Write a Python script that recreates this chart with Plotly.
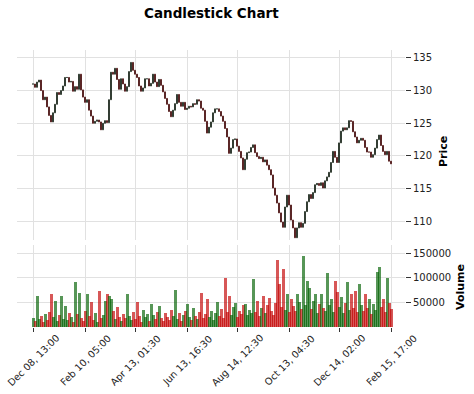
import plotly.graph_objects as go

# ---- data ----
tick_labels = ["Dec 08, 13:00", "Feb 10, 05:00", "Apr 13, 01:30", "Jun 13, 16:30",
               "Aug 14, 12:30", "Oct 13, 04:30", "Dec 14, 02:00", "Feb 15, 17:00"]

close = [
    131.0, 130.5, 131.3, 131.6, 130.0, 128.6, 129.0, 127.5, 126.2, 125.2,
    126.6, 127.9, 129.7, 129.4, 130.0, 130.7, 132.0, 132.0, 131.3, 131.4,
    129.9, 130.6, 130.2, 132.5, 130.1, 129.0, 128.2, 128.6, 127.0, 126.1,
    125.0, 125.3, 125.5, 125.2, 124.0, 125.0, 125.4, 125.1, 128.6, 132.8,
    132.5, 133.4, 131.7, 130.2, 131.8, 131.0, 129.9, 130.6, 132.9, 134.3,
    133.1, 132.5, 132.0, 130.7, 129.9, 130.4, 131.8, 131.8, 130.7, 131.1,
    132.5, 131.3, 130.6, 131.7, 130.8, 129.8, 128.8, 127.9, 126.8, 126.0,
    127.0, 128.0, 129.4, 128.2, 127.6, 128.2, 127.1, 127.3, 127.6, 127.5,
    128.0, 127.9, 128.6, 128.4, 127.3, 127.0, 125.3, 123.5, 124.4, 125.2,
    126.6, 127.2, 127.2, 126.8, 126.1, 125.3, 124.2, 122.9, 120.4, 121.2,
    122.5, 122.6, 121.5, 120.7, 119.7, 117.9, 119.5, 120.5, 120.6, 121.3,
    121.7, 120.5, 119.9, 119.6, 119.8, 119.1, 119.4, 118.6, 117.9, 117.1,
    115.1, 114.0, 112.8, 111.3, 109.9, 109.1, 112.2, 114.0, 112.5, 110.2,
    109.0, 107.5, 109.0, 109.8, 109.1, 109.7, 111.5, 113.0, 114.1, 113.5,
    114.4, 115.6, 115.8, 115.5, 115.9, 115.1, 116.2, 116.8, 117.5, 119.0,
    120.7, 119.8, 119.0, 122.0, 123.8, 124.3, 124.0, 124.3, 125.4, 125.3,
    123.7, 122.9, 122.0, 122.4, 122.7, 122.4, 121.3, 120.6, 120.6, 119.8,
    120.2, 121.2, 122.5, 123.2, 121.6, 120.7, 120.2, 120.7, 119.2, 118.8,
]

volume = [
    18000, 12000, 62000, 15000, 22000, 9000, 26000, 14000, 30000, 66000,
    20000, 52000, 11000, 24000, 62000, 16000, 42000, 13000, 28000, 19000,
    10000, 91000, 25000, 70000, 17000, 12000, 33000, 66000, 21000, 50000,
    14000, 27000, 9000, 74000, 18000, 23000, 52000, 66000, 62000, 56000,
    31000, 15000, 40000, 20000, 11000, 26000, 17000, 68000, 22000, 13000,
    29000, 16000, 50000, 21000, 10000, 34000, 19000, 25000, 12000, 46000,
    23000, 15000, 30000, 43000, 18000, 11000, 27000, 20000, 14000, 35000,
    22000, 76000, 16000, 28000, 12000, 24000, 31000, 46000, 19000, 13000,
    38000, 21000, 15000, 29000, 70000, 17000, 25000, 56000, 20000, 33000,
    14000, 27000, 50000, 22000, 36000, 18000, 101000, 30000, 62000, 24000,
    40000, 49000, 19000, 32000, 26000, 44000, 46000, 23000, 35000, 28000,
    97000, 30000, 52000, 21000, 38000, 62000, 27000, 45000, 59000, 33000,
    24000, 48000, 138000, 87000, 40000, 119000, 35000, 66000, 29000, 56000,
    42000, 31000, 66000, 50000, 37000, 146000, 44000, 93000, 80000, 36000,
    52000, 66000, 28000, 47000, 68000, 39000, 33000, 111000, 45000, 56000,
    30000, 93000, 72000, 41000, 60000, 27000, 48000, 91000, 35000, 66000,
    39000, 73000, 29000, 87000, 44000, 32000, 66000, 38000, 56000, 25000,
    46000, 34000, 113000, 123000, 41000, 56000, 30000, 101000, 48000, 36000,
]

price_ticks = [110, 115, 120, 125, 130, 135]
volume_ticks = [50000, 100000, 150000]
volume_tick_text = ["50000", "100000", "150000"]

# ---- build OHLC (open = previous close) ----
n = len(close)
idx = list(range(n))
open_ = [close[0]] + close[:-1]
high = [max(o, c) for o, c in zip(open_, close)]
low = [min(o, c) for o, c in zip(open_, close)]

UP = "rgba(0,95,0,0.66)"
DOWN = "rgba(195,0,0,0.66)"
vol_colors = [UP if c >= o else DOWN for o, c in zip(open_, close)]

tickvals = [round(k * (n - 1) / 7) for k in range(8)]

FONT = "DejaVu Sans"
GRID = "#e1e1e1"
TXT = "#222222"

W, H = 474, 394
ML, MR, MT, MB = 17, 69, 50, 67
PW, PH = W - ML - MR, H - MT - MB   # 388 x 277

fig = go.Figure()
fig.add_trace(go.Candlestick(
    x=idx, open=open_, high=high, low=low, close=close,
    xaxis="x", yaxis="y",
    increasing=dict(line=dict(color="#333d33", width=1), fillcolor="#4a6a4a"),
    decreasing=dict(line=dict(color="#5a2626", width=1), fillcolor="#9a3434"),
    showlegend=False, hoverinfo="skip",
))
fig.add_trace(go.Bar(
    x=idx, y=volume, xaxis="x2", yaxis="y2",
    marker=dict(color=vol_colors, line=dict(width=0)),
    width=1.5, showlegend=False, hoverinfo="skip",
))

xr = [-8, n - 1 + 7]
common_x = dict(range=xr, showgrid=True, gridcolor=GRID, gridwidth=1,
                tickvals=tickvals, zeroline=False, showline=False, automargin=False)

annotations = []
for tv, lab in zip(tickvals, tick_labels):
    annotations.append(dict(
        x=tv, xref="x2", y=0, yref="paper", yshift=-33,
        text=lab, textangle=-45, showarrow=False,
        xanchor="center", yanchor="middle",
        font=dict(family=FONT, size=9.7, color=TXT),
    ))
annotations.append(dict(
    x=0.5, xref="paper", y=1 + (MT - 12.5) / PH, yref="paper",
    text="<b>Candlestick Chart</b>", showarrow=False,
    xanchor="center", yanchor="middle",
    font=dict(family=FONT, size=13.5, color="black"),
))
annotations.append(dict(
    x=1 + 38 / PW, xref="paper", y=(327 - 152) / PH, yref="paper",
    text="<b>Price</b>", textangle=-90, showarrow=False,
    xanchor="center", yanchor="middle",
    font=dict(family=FONT, size=11, color="black"),
))
annotations.append(dict(
    x=1 + 55 / PW, xref="paper", y=(327 - 287) / PH, yref="paper",
    text="<b>Volume</b>", textangle=-90, showarrow=False,
    xanchor="center", yanchor="middle",
    font=dict(family=FONT, size=11, color="black"),
))

fig.update_layout(
    width=W, height=H,
    margin=dict(l=ML, r=MR, t=MT, b=MB, autoexpand=False),
    paper_bgcolor="white", plot_bgcolor="white",
    font=dict(family=FONT, size=10, color=TXT),
    xaxis=dict(**common_x, anchor="y", domain=[0, 1], showticklabels=False,
               ticks="", rangeslider=dict(visible=False)),
    xaxis2=dict(**common_x, anchor="y2", domain=[0, 1], showticklabels=False,
                ticks="outside", ticklen=4, tickcolor="#333"),
    yaxis=dict(domain=[0.314, 1], side="right", range=[107.15, 136.2],
               tickvals=price_ticks, showgrid=True, gridcolor=GRID, zeroline=False,
               ticks="outside", ticklen=5, tickcolor="#333", automargin=False,
               tickfont=dict(family=FONT, size=10, color=TXT)),
    yaxis2=dict(domain=[0, 0.296], side="right", range=[-1000, 168000],
                tickvals=volume_ticks, ticktext=volume_tick_text, showgrid=True,
                gridcolor=GRID, zeroline=False, ticks="outside", ticklen=5, tickcolor="#333",
                automargin=False, tickfont=dict(family=FONT, size=10, color=TXT)),
    bargap=0,
    annotations=annotations,
)

# remove the default 8px page margin so the figure fills the window exactly
fig.write_html("out.html", config={"displayModeBar": False},
               post_script="document.body.style.margin='0px';")
